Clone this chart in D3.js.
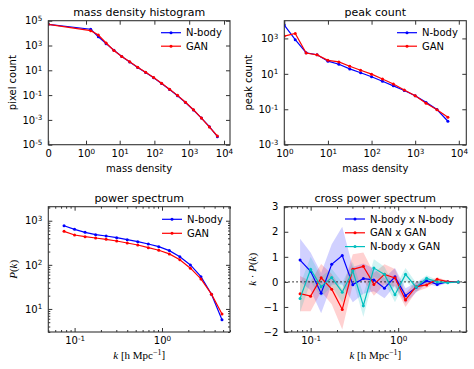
<!DOCTYPE html>
<html><head><meta charset="utf-8">
<script src="https://cdn.jsdelivr.net/npm/d3@7"></script>
<style>body{margin:0;background:#fff}svg{display:block}</style>
</head><body>
<svg id="c" width="474" height="369"></svg>
<script>
// ---------- data ----------
const massBins = [0, 1.40, 2.37, 4.02, 6.81, 11.5, 19.5, 33.1, 56.1, 95.1, 161, 273, 462, 783, 1327, 2249, 3811, 6457];
const histNbody = [51300, 20400, 5130, 1413, 417, 129, 46.8, 17.0, 6.61, 2.51, 0.871, 0.282, 0.0891, 0.0251, 0.00631, 0.00141, 0.000282, 0.0000447];
const histGAN = [51300, 15800, 7080, 1585, 398, 132, 47.9, 17.8, 7.08, 2.63, 0.891, 0.295, 0.0955, 0.0263, 0.0066, 0.00141, 0.000263, 0.0000501];

const peakBins = [1, 1.78, 3.16, 5.62, 10, 17.8, 31.6, 56.2, 100, 178, 316, 562, 1000, 1778, 3162, 5623];
const peakNbody = [5700, 850, 155, 120, 52, 35, 19, 11.5, 6.8, 3.8, 2.1, 1.15, 0.58, 0.245, 0.096, 0.021];
const peakGAN = [1350, 1900, 150, 118, 58, 47, 27, 16, 9.6, 5.1, 2.7, 1.23, 0.58, 0.22, 0.095, 0.036];

const kVals = [0.0757, 0.0999, 0.1318, 0.174, 0.2296, 0.303, 0.400, 0.528, 0.697, 0.919, 1.213, 1.601, 2.113, 2.790, 3.681, 4.859];
const psNbody = [771, 638, 546, 482, 451, 413, 372, 335, 297, 258, 210, 153, 99.5, 54, 21.6, 5.7];
const psGAN = [575, 475, 435, 406, 379, 347, 313, 282, 245, 214, 177, 131, 84, 48, 21.6, 7.7];

const crossNN = [0.87, 0.42, -0.45, 0.70, 1.05, -0.11, 0.13, 0.08, -0.25, 0.20, -0.55, -0.22, 0.05, -0.10, 0.01, 0.0];
const crossGG = [-0.47, -0.57, 0.16, -0.29, -1.10, 0.50, 0.62, -0.10, 0.30, 0.16, -0.72, -0.19, -0.12, 0.10, 0.01, 0.0];
const crossNG = [-0.66, 0.50, -0.19, 0.17, -0.41, 0.44, -0.95, 0.55, 0.30, -0.51, 0.30, -0.21, 0.14, 0.0, -0.03, 0.0];
const stdNN = [0.85, 0.75, 0.8, 0.8, 1.15, 0.7, 0.6, 0.45, 0.4, 0.35, 0.3, 0.2, 0.12, 0.08, 0.04, 0.02];
const stdGG = [0.7, 0.6, 0.55, 0.6, 0.8, 0.6, 0.55, 0.45, 0.4, 0.35, 0.28, 0.2, 0.12, 0.08, 0.04, 0.02];
const stdNG = [0.55, 0.5, 0.4, 0.35, 0.4, 0.35, 0.45, 0.35, 0.3, 0.3, 0.25, 0.18, 0.12, 0.08, 0.04, 0.02];

const titles = ["mass density histogram", "peak count", "power spectrum", "cross power spectrum"];
const legendTwo = ["N-body", "GAN"];
const legendCross = ["N-body x N-body", "GAN x GAN", "N-body x GAN"];

// ---------- drawing ----------
const svg = d3.select("#c");
const BLUE = "#0000ff", RED = "#ff0000", CYAN = "#00bfbf";
const SANS = "DejaVu Sans, sans-serif";
const SERIF = "Liberation Serif, DejaVu Serif, serif";

function sup(sel, base, exp) {
  sel.each(function () {
    const t = d3.select(this);
    t.text(null);
    t.append("tspan").text(base);
    if (exp !== null) t.append("tspan").attr("dy", "-0.45em").attr("font-size", "0.72em").text(exp);
  });
}

function makePanel(p) {
  const g = svg.append("g");
  const id = "clip" + p.idx;
  svg.append("clipPath").attr("id", id).append("rect")
    .attr("x", p.x0).attr("y", p.y0).attr("width", p.x1 - p.x0).attr("height", p.y1 - p.y0);
  const plot = g.append("g").attr("clip-path", `url(#${id})`);
  return { g, plot };
}

function axes(g, p, xs, ys, xMajor, yMajor, xMinor, yMinor, xFmt, yFmt) {
  const style = a => a.selectAll("path,line").attr("stroke", "#333");
  // bottom
  const b = g.append("g").attr("transform", `translate(0,${p.y1})`)
    .call(d3.axisBottom(xs).tickValues(xMajor).tickSizeInner(-4).tickSizeOuter(0).tickPadding(5));
  b.select(".domain").remove();
  b.selectAll(".tick text").attr("font-family", SANS).attr("font-size", 10).attr("fill", "#000")
    .each(function (d) { xFmt(d3.select(this), d); });
  style(b);
  const t = g.append("g").attr("transform", `translate(0,${p.y0})`)
    .call(d3.axisTop(xs).tickValues(xMajor).tickSizeInner(-4).tickSizeOuter(0).tickFormat(""));
  t.select(".domain").remove(); style(t);
  if (xMinor) {
    [[d3.axisBottom, p.y1], [d3.axisTop, p.y0]].forEach(([f, y]) => {
      const m = g.append("g").attr("transform", `translate(0,${y})`)
        .call(f(xs).tickValues(xMinor).tickSizeInner(-2).tickSizeOuter(0).tickFormat(""));
      m.select(".domain").remove(); style(m);
    });
  }
  const l = g.append("g").attr("transform", `translate(${p.x0},0)`)
    .call(d3.axisLeft(ys).tickValues(yMajor).tickSizeInner(-4).tickSizeOuter(0).tickPadding(6));
  l.select(".domain").remove();
  l.selectAll(".tick text").attr("font-family", SANS).attr("font-size", 10).attr("fill", "#000")
    .each(function (d) { yFmt(d3.select(this), d); });
  style(l);
  const r = g.append("g").attr("transform", `translate(${p.x1},0)`)
    .call(d3.axisRight(ys).tickValues(yMajor).tickSizeInner(-4).tickSizeOuter(0).tickFormat(""));
  r.select(".domain").remove(); style(r);
  if (yMinor) {
    [[d3.axisLeft, p.x0], [d3.axisRight, p.x1]].forEach(([f, x]) => {
      const m = g.append("g").attr("transform", `translate(${x},0)`)
        .call(f(ys).tickValues(yMinor).tickSizeInner(-2).tickSizeOuter(0).tickFormat(""));
      m.select(".domain").remove(); style(m);
    });
  }
  g.append("rect").attr("x", p.x0).attr("y", p.y0).attr("width", p.x1 - p.x0).attr("height", p.y1 - p.y0)
    .attr("fill", "none").attr("stroke", "#333").attr("stroke-width", 1.1);
}

function pow10Fmt(sel, d) {
  if (d === 0) { sel.text("0"); return; }
  const e = Math.round(Math.log10(d));
  sup(sel, "10", e < 0 ? "-" + (-e) : String(e));
}

function series(plot, xs, ys, xv, yv, color) {
  const data = xv.map((x, i) => [x, yv[i]]);
  plot.append("path").datum(data)
    .attr("d", d3.line().x(d => xs(d[0])).y(d => ys(d[1])))
    .attr("fill", "none").attr("stroke", color).attr("stroke-width", 1.2);
  plot.selectAll(null).data(data).enter().append("circle")
    .attr("cx", d => xs(d[0])).attr("cy", d => ys(d[1])).attr("r", 1.5).attr("fill", color);
}

function legend(g, x, y, dy, labels, colors) {
  labels.forEach((lab, i) => {
    const yy = y + i * dy;
    g.append("line").attr("x1", x).attr("x2", x + 20).attr("y1", yy).attr("y2", yy)
      .attr("stroke", colors[i]).attr("stroke-width", 1.2);
    g.append("circle").attr("cx", x + 10).attr("cy", yy).attr("r", 1.5).attr("fill", colors[i]);
    g.append("text").attr("x", x + 25).attr("y", yy + 3.6).attr("font-family", SANS)
      .attr("font-size", 10).text(lab);
  });
}

function title(g, p, txt) {
  g.append("text").attr("x", (p.x0 + p.x1) / 2).attr("y", p.y0 - 5).attr("text-anchor", "middle")
    .attr("font-family", SANS).attr("font-size", 11).text(txt);
}

function minorLog(lo, hi) {
  const out = [];
  for (let e = Math.floor(Math.log10(lo)); e <= Math.ceil(Math.log10(hi)); e++)
    for (let m = 2; m <= 9; m++) { const v = m * Math.pow(10, e); if (v >= lo && v <= hi) out.push(v); }
  return out;
}

// ---- panel 1: mass density histogram ----
{
  const p = { idx: 1, x0: 48.3, x1: 230, y0: 20.7, y1: 144.7 };
  const { g, plot } = makePanel(p);
  const xs = d3.scaleSymlog().constant(0.09).domain([0, 14850]).range([p.x0, p.x1]);
  const ys = d3.scaleLog().domain([1e-5, 1e5]).range([p.y1, p.y0]);
  series(plot, xs, ys, massBins, histNbody, BLUE);
  series(plot, xs, ys, massBins, histGAN, RED);
  axes(g, p, xs, ys, [0, 1, 10, 100, 1000, 10000], [1e-5, 1e-3, 1e-1, 1e1, 1e3, 1e5], null, null, pow10Fmt, pow10Fmt);
  legend(g, 161, 32.7, 13.5, legendTwo, [BLUE, RED]);
  title(g, p, titles[0]);
  g.append("text").attr("x", (p.x0 + p.x1) / 2).attr("y", 171.5).attr("text-anchor", "middle")
    .attr("font-family", SANS).attr("font-size", 10).text("mass density");
  g.append("text").attr("transform", `translate(15.5,${(p.y0 + p.y1) / 2}) rotate(-90)`).attr("text-anchor", "middle")
    .attr("font-family", SANS).attr("font-size", 10).text("pixel count");
}

// ---- panel 2: peak count ----
{
  const p = { idx: 2, x0: 284.3, x1: 466.3, y0: 20.7, y1: 144.7 };
  const { g, plot } = makePanel(p);
  const xs = d3.scaleLog().domain([1, 14850]).range([p.x0, p.x1]);
  const ys = d3.scaleLog().domain([1e-3, 1e4]).range([p.y1, p.y0]);
  series(plot, xs, ys, peakBins, peakNbody, BLUE);
  series(plot, xs, ys, peakBins, peakGAN, RED);
  axes(g, p, xs, ys, [1, 10, 100, 1000, 10000], [1e-3, 1e-1, 1e1, 1e3], null, null, pow10Fmt, pow10Fmt);
  legend(g, 397, 32.7, 13.5, legendTwo, [BLUE, RED]);
  title(g, p, titles[1]);
  g.append("text").attr("x", (p.x0 + p.x1) / 2).attr("y", 171.5).attr("text-anchor", "middle")
    .attr("font-family", SANS).attr("font-size", 10).text("mass density");
  g.append("text").attr("transform", `translate(252,${(p.y0 + p.y1) / 2}) rotate(-90)`).attr("text-anchor", "middle")
    .attr("font-family", SANS).attr("font-size", 10).text("peak count");
}

function kLabel(g, p) {
  const t = g.append("text").attr("x", (p.x0 + p.x1) / 2).attr("y", 358.5).attr("text-anchor", "middle")
    .attr("font-family", SERIF).attr("font-size", 11);
  t.append("tspan").attr("font-style", "italic").text("k");
  t.append("tspan").text(" [h Mpc");
  t.append("tspan").attr("dy", "-0.45em").attr("font-size", "0.72em").text("\u22121");
  t.append("tspan").attr("dy", "0.32em").text("]");
}

// ---- panel 3: power spectrum ----
{
  const p = { idx: 3, x0: 48.3, x1: 230, y0: 206.7, y1: 332 };
  const { g, plot } = makePanel(p);
  const xs = d3.scaleLog().domain([0.05, 6]).range([p.x0, p.x1]);
  const ys = d3.scaleLog().domain([3, 2080]).range([p.y1, p.y0]);
  series(plot, xs, ys, kVals, psNbody, BLUE);
  series(plot, xs, ys, kVals, psGAN, RED);
  axes(g, p, xs, ys, [0.1, 1], [10, 100, 1000], minorLog(0.05, 6), minorLog(3, 2080), pow10Fmt, pow10Fmt);
  legend(g, 162, 219.3, 14, legendTwo, [BLUE, RED]);
  title(g, p, titles[2]);
  kLabel(g, p);
  const t = g.append("text").attr("transform", `translate(17,${(p.y0 + p.y1) / 2}) rotate(-90)`)
    .attr("text-anchor", "middle").attr("font-family", SERIF).attr("font-size", 11);
  t.append("tspan").attr("font-style", "italic").text("P");
  t.append("tspan").text("(");
  t.append("tspan").attr("font-style", "italic").text("k");
  t.append("tspan").text(")");
}

// ---- panel 4: cross power spectrum ----
{
  const p = { idx: 4, x0: 284.3, x1: 466.3, y0: 206.7, y1: 332 };
  const { g, plot } = makePanel(p);
  const xs = d3.scaleLog().domain([0.05, 6]).range([p.x0, p.x1]);
  const ys = d3.scaleLinear().domain([-2, 3]).range([p.y1, p.y0]);
  const bands = [[crossNN, stdNN, BLUE], [crossGG, stdGG, RED], [crossNG, stdNG, CYAN]];
  bands.forEach(([v, s, c]) => {
    plot.append("path").datum(kVals.map((k, i) => [k, v[i], s[i]]))
      .attr("d", d3.area().x(d => xs(d[0])).y0(d => ys(d[1] - d[2])).y1(d => ys(d[1] + d[2])))
      .attr("fill", c).attr("fill-opacity", 0.18).attr("stroke", "none");
  });
  plot.append("line").attr("x1", p.x0).attr("x2", p.x1).attr("y1", ys(0)).attr("y2", ys(0))
    .attr("stroke", "#000").attr("stroke-width", 1).attr("stroke-dasharray", "1.5,2.5");
  bands.forEach(([v, s, c]) => series(plot, xs, ys, kVals, v, c));
  const linFmt = (sel, d) => sel.text(d < 0 ? "\u2212" + (-d) : String(d));
  axes(g, p, xs, ys, [0.1, 1], [-2, -1, 0, 1, 2, 3], minorLog(0.05, 6), null, pow10Fmt, linFmt);
  legend(g, 345, 219, 13.8, legendCross, [BLUE, RED, CYAN]);
  title(g, p, titles[3]);
  kLabel(g, p);
  const t = g.append("text").attr("transform", `translate(256,${(p.y0 + p.y1) / 2}) rotate(-90)`)
    .attr("text-anchor", "middle").attr("font-family", SERIF).attr("font-size", 11);
  t.append("tspan").attr("font-style", "italic").text("k");
  t.append("tspan").text(" \u00b7 ");
  t.append("tspan").attr("font-style", "italic").text("P");
  t.append("tspan").text("(");
  t.append("tspan").attr("font-style", "italic").text("k");
  t.append("tspan").text(")");
}
</script>
</body></html>
